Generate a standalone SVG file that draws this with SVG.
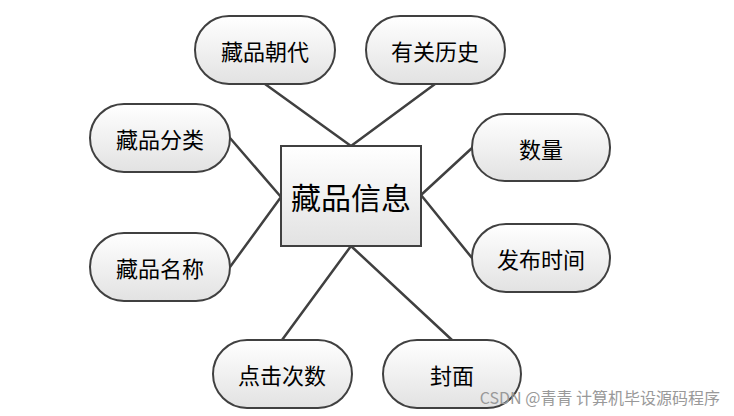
<svg xmlns="http://www.w3.org/2000/svg" width="734" height="416" viewBox="0 0 734 416">
<defs>
<linearGradient id="g" x1="0" y1="0" x2="0" y2="1"><stop offset="0" stop-color="#ffffff"/><stop offset="1" stop-color="#e2e2e2"/></linearGradient>
<style>
.n{fill:url(#g);stroke:#404040;stroke-width:2}
.t{font-family:"Noto Sans CJK SC",sans-serif;font-size:22px;fill:#000;text-anchor:middle;dominant-baseline:central}
.c{stroke:#404040;stroke-width:2.5;fill:none}
</style>
</defs>
<rect width="734" height="416" fill="#fff"/>
<g id="connectors">
<path class="c" d="M265 84L351 146M435 84L351 146M230 138L281 197M230 267L281 197M472 148L421 195M472 258L421 195M351 246L282 340M351 246L452 340"/>
</g>
<g id="center"><rect class="n" x="281" y="146" width="140" height="100"/><text class="t" x="351" y="196" style="font-size:30px">藏品信息</text></g>
<g id="n1"><rect class="n" x="195" y="16" width="140" height="68" rx="34"/><text class="t" x="265" y="50">藏品朝代</text></g>
<g id="n2"><rect class="n" x="366" y="16" width="139" height="68" rx="34"/><text class="t" x="435" y="50">有关历史</text></g>
<g id="n3"><rect class="n" x="90" y="104" width="140" height="68" rx="34"/><text class="t" x="160" y="138">藏品分类</text></g>
<g id="n4"><rect class="n" x="472" y="114" width="138" height="67" rx="33"/><text class="t" x="541" y="148">数量</text></g>
<g id="n5"><rect class="n" x="90" y="233" width="140" height="68" rx="34"/><text class="t" x="160" y="267">藏品名称</text></g>
<g id="n6"><rect class="n" x="472" y="224" width="138" height="68" rx="34"/><text class="t" x="541" y="258">发布时间</text></g>
<g id="n7"><rect class="n" x="213" y="340" width="139" height="68" rx="34"/><text class="t" x="282" y="374">点击次数</text></g>
<g id="n8"><rect class="n" x="383" y="340" width="138" height="68" rx="34"/><text class="t" x="452" y="374">封面</text></g>
<text x="720" y="404" style="font-family:'Noto Sans CJK SC',sans-serif;font-size:16px;fill:#999;text-anchor:end">CSDN @青青  计算机毕设源码程序</text>
</svg>
